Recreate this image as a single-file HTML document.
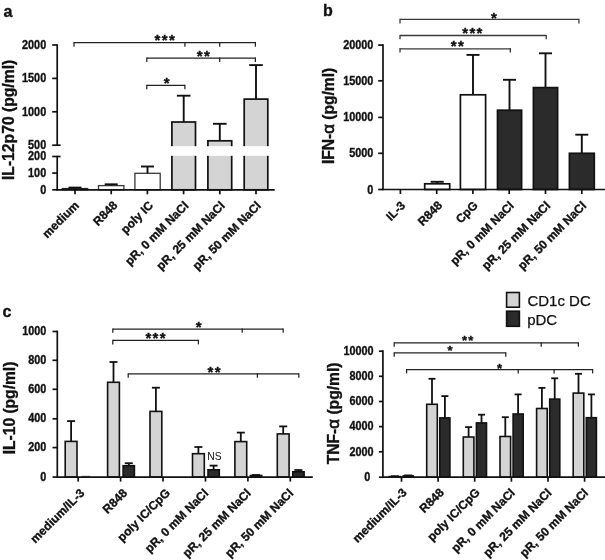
<!DOCTYPE html>
<html lang="en"><head><meta charset="utf-8"><title>Figure</title>
<style>
html,body{margin:0;padding:0;background:#fff;}
body{width:605px;height:560px;overflow:hidden;font-family:"Liberation Sans",sans-serif;}
svg{display:block;font-family:"Liberation Sans",sans-serif;}
</style></head><body>
<svg width="605" height="560" viewBox="0 0 605 560">
<rect x="0" y="0" width="605" height="560" fill="#fff"/>
<text transform="translate(3.5 16.5)" font-size="16" font-weight="bold" stroke="#111" stroke-width="0.35" text-anchor="start" fill="#111">a</text>
<line x1="57.2" y1="44.2" x2="57.2" y2="145.9" stroke="#111" stroke-width="1.7"/>
<line x1="52.2" y1="45.0" x2="57.2" y2="45.0" stroke="#111" stroke-width="1.7"/>
<text transform="translate(46.2 48.9) scale(0.905 1)" font-size="12" font-weight="bold" stroke="#111" stroke-width="0.35" text-anchor="end" fill="#111">2000</text>
<line x1="52.2" y1="78.4" x2="57.2" y2="78.4" stroke="#111" stroke-width="1.7"/>
<text transform="translate(46.2 82.3) scale(0.905 1)" font-size="12" font-weight="bold" stroke="#111" stroke-width="0.35" text-anchor="end" fill="#111">1500</text>
<line x1="52.2" y1="111.8" x2="57.2" y2="111.8" stroke="#111" stroke-width="1.7"/>
<text transform="translate(46.2 115.7) scale(0.905 1)" font-size="12" font-weight="bold" stroke="#111" stroke-width="0.35" text-anchor="end" fill="#111">1000</text>
<line x1="52.2" y1="145.2" x2="57.2" y2="145.2" stroke="#111" stroke-width="1.7"/>
<text transform="translate(46.2 149.1) scale(0.905 1)" font-size="12" font-weight="bold" stroke="#111" stroke-width="0.35" text-anchor="end" fill="#111">500</text>
<line x1="57.2" y1="145.2" x2="60.6" y2="145.2" stroke="#111" stroke-width="1.7"/>
<line x1="57.2" y1="156.5" x2="60.6" y2="156.5" stroke="#111" stroke-width="1.7"/>
<line x1="57.2" y1="155.8" x2="57.2" y2="190.6" stroke="#111" stroke-width="1.7"/>
<line x1="52.2" y1="156.5" x2="57.2" y2="156.5" stroke="#111" stroke-width="1.7"/>
<text transform="translate(46.2 160.4) scale(0.905 1)" font-size="12" font-weight="bold" stroke="#111" stroke-width="0.35" text-anchor="end" fill="#111">200</text>
<line x1="52.2" y1="173.1" x2="57.2" y2="173.1" stroke="#111" stroke-width="1.7"/>
<text transform="translate(46.2 177.0) scale(0.905 1)" font-size="12" font-weight="bold" stroke="#111" stroke-width="0.35" text-anchor="end" fill="#111">100</text>
<line x1="52.2" y1="189.8" x2="57.2" y2="189.8" stroke="#111" stroke-width="1.7"/>
<text transform="translate(46.2 193.7) scale(0.905 1)" font-size="12" font-weight="bold" stroke="#111" stroke-width="0.35" text-anchor="end" fill="#111">0</text>
<text transform="translate(13.8 119.9) rotate(-90)" font-size="15.7" font-weight="bold" stroke="#111" stroke-width="0.35" text-anchor="middle" fill="#111">IL-12p70 (pg/ml)</text>
<rect x="62.3" y="188.5" width="25.4" height="1.3" fill="#fff" stroke="#222" stroke-width="1.2"/>
<line x1="75.0" y1="187.6" x2="75.0" y2="188.5" stroke="#111" stroke-width="1.9"/>
<line x1="68.5" y1="187.6" x2="81.5" y2="187.6" stroke="#111" stroke-width="1.9"/>
<rect x="98.5" y="185.6" width="25.4" height="4.2" fill="#fff" stroke="#383838" stroke-width="1.3"/>
<line x1="111.2" y1="184.3" x2="111.2" y2="185.6" stroke="#111" stroke-width="1.9"/>
<line x1="104.7" y1="184.3" x2="117.7" y2="184.3" stroke="#111" stroke-width="1.9"/>
<rect x="134.9" y="173.3" width="25.3" height="16.5" fill="#fff" stroke="#383838" stroke-width="1.3"/>
<line x1="147.5" y1="166.5" x2="147.5" y2="173.3" stroke="#111" stroke-width="1.9"/>
<line x1="141.0" y1="166.5" x2="154.0" y2="166.5" stroke="#111" stroke-width="1.9"/>
<rect x="171.9" y="122.0" width="23.6" height="67.8" fill="#d4d4d4" stroke="#111" stroke-width="1.7"/>
<line x1="183.7" y1="95.7" x2="183.7" y2="122.0" stroke="#111" stroke-width="1.9"/>
<line x1="176.9" y1="95.7" x2="190.5" y2="95.7" stroke="#111" stroke-width="1.9"/>
<rect x="207.9" y="140.8" width="23.8" height="49.0" fill="#d4d4d4" stroke="#111" stroke-width="1.7"/>
<line x1="219.8" y1="123.8" x2="219.8" y2="140.8" stroke="#111" stroke-width="1.9"/>
<line x1="213.0" y1="123.8" x2="226.6" y2="123.8" stroke="#111" stroke-width="1.9"/>
<rect x="244.2" y="99.1" width="23.6" height="90.7" fill="#d4d4d4" stroke="#111" stroke-width="1.7"/>
<line x1="256.0" y1="65.1" x2="256.0" y2="99.1" stroke="#111" stroke-width="1.9"/>
<line x1="249.2" y1="65.1" x2="262.8" y2="65.1" stroke="#111" stroke-width="1.9"/>
<rect x="165" y="146.2" width="110" height="9.6" fill="#fff"/>
<line x1="56.5" y1="189.8" x2="274.7" y2="189.8" stroke="#111" stroke-width="1.7"/>
<line x1="75.0" y1="189.8" x2="75.0" y2="194.3" stroke="#111" stroke-width="1.7"/>
<line x1="111.2" y1="189.8" x2="111.2" y2="194.3" stroke="#111" stroke-width="1.7"/>
<line x1="147.4" y1="189.8" x2="147.4" y2="194.3" stroke="#111" stroke-width="1.7"/>
<line x1="183.6" y1="189.8" x2="183.6" y2="194.3" stroke="#111" stroke-width="1.7"/>
<line x1="219.8" y1="189.8" x2="219.8" y2="194.3" stroke="#111" stroke-width="1.7"/>
<line x1="256.0" y1="189.8" x2="256.0" y2="194.3" stroke="#111" stroke-width="1.7"/>
<text transform="translate(79.8 206.1) rotate(-45)" font-size="12" font-weight="bold" stroke="#111" stroke-width="0.35" text-anchor="end" fill="#111">medium</text>
<text transform="translate(118.2 206.1) rotate(-45)" font-size="12" font-weight="bold" stroke="#111" stroke-width="0.35" text-anchor="end" fill="#111">R848</text>
<text transform="translate(154.0 206.1) rotate(-45)" font-size="12" font-weight="bold" stroke="#111" stroke-width="0.35" text-anchor="end" fill="#111">poly IC</text>
<text transform="translate(189.3 206.5) rotate(-45)" font-size="12" font-weight="bold" stroke="#111" stroke-width="0.35" text-anchor="end" fill="#111">pR, 0 mM NaCl</text>
<text transform="translate(225.5 206.5) rotate(-45)" font-size="12" font-weight="bold" stroke="#111" stroke-width="0.35" text-anchor="end" fill="#111">pR, 25 mM NaCl</text>
<text transform="translate(261.7 206.5) rotate(-45)" font-size="12" font-weight="bold" stroke="#111" stroke-width="0.35" text-anchor="end" fill="#111">pR, 50 mM NaCl</text>
<line x1="74.0" y1="42.5" x2="255.4" y2="42.5" stroke="#222" stroke-width="1.25"/>
<line x1="74.0" y1="41.9" x2="74.0" y2="46.7" stroke="#222" stroke-width="1.25"/>
<line x1="184.9" y1="41.9" x2="184.9" y2="46.7" stroke="#222" stroke-width="1.25"/>
<line x1="219.7" y1="41.9" x2="219.7" y2="46.7" stroke="#222" stroke-width="1.25"/>
<line x1="255.4" y1="41.9" x2="255.4" y2="46.7" stroke="#222" stroke-width="1.25"/>
<line x1="146.8" y1="58.0" x2="255.4" y2="58.0" stroke="#222" stroke-width="1.25"/>
<line x1="146.8" y1="57.4" x2="146.8" y2="62.0" stroke="#222" stroke-width="1.25"/>
<line x1="219.7" y1="57.4" x2="219.7" y2="62.0" stroke="#222" stroke-width="1.25"/>
<line x1="255.4" y1="57.4" x2="255.4" y2="62.0" stroke="#222" stroke-width="1.25"/>
<line x1="146.8" y1="85.4" x2="184.9" y2="85.4" stroke="#222" stroke-width="1.25"/>
<line x1="146.8" y1="84.8" x2="146.8" y2="89.2" stroke="#222" stroke-width="1.25"/>
<line x1="184.9" y1="84.8" x2="184.9" y2="89.2" stroke="#222" stroke-width="1.25"/>
<text transform="translate(165.3 44.8)" font-size="15" font-weight="bold" stroke="#111" stroke-width="0.35" text-anchor="middle" fill="#111" letter-spacing="1.37">***</text>
<text transform="translate(204.0 61.3)" font-size="15" font-weight="bold" stroke="#111" stroke-width="0.35" text-anchor="middle" fill="#111" letter-spacing="1.37">**</text>
<text transform="translate(167.4 87.5)" font-size="15" font-weight="bold" stroke="#111" stroke-width="0.35" text-anchor="middle" fill="#111" letter-spacing="1.37">*</text>
<text transform="translate(323.0 16.0)" font-size="16" font-weight="bold" stroke="#111" stroke-width="0.35" text-anchor="start" fill="#111">b</text>
<line x1="383.0" y1="44.2" x2="383.0" y2="190.3" stroke="#111" stroke-width="1.7"/>
<line x1="378.2" y1="45.1" x2="383.0" y2="45.1" stroke="#111" stroke-width="1.7"/>
<text transform="translate(373.4 49.1) scale(0.905 1)" font-size="12" font-weight="bold" stroke="#111" stroke-width="0.35" text-anchor="end" fill="#111">20000</text>
<line x1="378.2" y1="80.8" x2="383.0" y2="80.8" stroke="#111" stroke-width="1.7"/>
<text transform="translate(373.4 84.8) scale(0.905 1)" font-size="12" font-weight="bold" stroke="#111" stroke-width="0.35" text-anchor="end" fill="#111">15000</text>
<line x1="378.2" y1="117.4" x2="383.0" y2="117.4" stroke="#111" stroke-width="1.7"/>
<text transform="translate(373.4 121.4) scale(0.905 1)" font-size="12" font-weight="bold" stroke="#111" stroke-width="0.35" text-anchor="end" fill="#111">10000</text>
<line x1="378.2" y1="153.3" x2="383.0" y2="153.3" stroke="#111" stroke-width="1.7"/>
<text transform="translate(373.4 157.3) scale(0.905 1)" font-size="12" font-weight="bold" stroke="#111" stroke-width="0.35" text-anchor="end" fill="#111">5000</text>
<line x1="378.2" y1="189.5" x2="383.0" y2="189.5" stroke="#111" stroke-width="1.7"/>
<text transform="translate(373.4 193.5) scale(0.905 1)" font-size="12" font-weight="bold" stroke="#111" stroke-width="0.35" text-anchor="end" fill="#111">0</text>
<text transform="translate(333.6 115.9) rotate(-90)" font-size="15.6" font-weight="bold" stroke="#111" stroke-width="0.35" text-anchor="middle" fill="#111">IFN-<tspan font-weight="normal" stroke-width="0.7" font-size="16.8">α</tspan> (pg/ml)</text>
<rect x="424.7" y="183.8" width="25.0" height="5.7" fill="#fff" stroke="#111" stroke-width="1.7"/>
<line x1="437.2" y1="181.8" x2="437.2" y2="183.8" stroke="#111" stroke-width="1.9"/>
<line x1="430.7" y1="181.8" x2="443.7" y2="181.8" stroke="#111" stroke-width="1.9"/>
<rect x="460.4" y="94.8" width="25.2" height="94.7" fill="#fff" stroke="#111" stroke-width="1.7"/>
<line x1="473.0" y1="54.9" x2="473.0" y2="94.8" stroke="#111" stroke-width="1.9"/>
<line x1="466.5" y1="54.9" x2="479.5" y2="54.9" stroke="#111" stroke-width="1.9"/>
<rect x="497.5" y="110.2" width="24.1" height="79.3" fill="#2b2b2b" stroke="#111" stroke-width="1.7"/>
<line x1="509.5" y1="79.8" x2="509.5" y2="109.9" stroke="#111" stroke-width="1.9"/>
<line x1="503.0" y1="79.8" x2="516.0" y2="79.8" stroke="#111" stroke-width="1.9"/>
<rect x="533.4" y="87.6" width="24.2" height="101.9" fill="#2b2b2b" stroke="#111" stroke-width="1.7"/>
<line x1="545.5" y1="53.3" x2="545.5" y2="87.3" stroke="#111" stroke-width="1.9"/>
<line x1="539.0" y1="53.3" x2="552.0" y2="53.3" stroke="#111" stroke-width="1.9"/>
<rect x="569.4" y="153.3" width="24.9" height="36.2" fill="#2b2b2b" stroke="#111" stroke-width="1.7"/>
<line x1="581.8" y1="134.7" x2="581.8" y2="153.0" stroke="#111" stroke-width="1.9"/>
<line x1="575.3" y1="134.7" x2="588.3" y2="134.7" stroke="#111" stroke-width="1.9"/>
<line x1="382.2" y1="189.5" x2="605.0" y2="189.5" stroke="#111" stroke-width="1.7"/>
<line x1="400.4" y1="189.5" x2="400.4" y2="194.0" stroke="#111" stroke-width="1.7"/>
<line x1="436.7" y1="189.5" x2="436.7" y2="194.0" stroke="#111" stroke-width="1.7"/>
<line x1="472.9" y1="189.5" x2="472.9" y2="194.0" stroke="#111" stroke-width="1.7"/>
<line x1="509.2" y1="189.5" x2="509.2" y2="194.0" stroke="#111" stroke-width="1.7"/>
<line x1="545.5" y1="189.5" x2="545.5" y2="194.0" stroke="#111" stroke-width="1.7"/>
<line x1="581.8" y1="189.5" x2="581.8" y2="194.0" stroke="#111" stroke-width="1.7"/>
<text transform="translate(406.1 206.3) rotate(-45)" font-size="12" font-weight="bold" stroke="#111" stroke-width="0.35" text-anchor="end" fill="#111">IL-3</text>
<text transform="translate(443.0 206.1) rotate(-45)" font-size="12" font-weight="bold" stroke="#111" stroke-width="0.35" text-anchor="end" fill="#111">R848</text>
<text transform="translate(478.6 206.1) rotate(-45)" font-size="12" font-weight="bold" stroke="#111" stroke-width="0.35" text-anchor="end" fill="#111">CpG</text>
<text transform="translate(514.7 206.4) rotate(-45)" font-size="12" font-weight="bold" stroke="#111" stroke-width="0.35" text-anchor="end" fill="#111">pR, 0 mM NaCl</text>
<text transform="translate(551.0 206.4) rotate(-45)" font-size="12" font-weight="bold" stroke="#111" stroke-width="0.35" text-anchor="end" fill="#111">pR, 25 mM NaCl</text>
<text transform="translate(587.0 206.4) rotate(-45)" font-size="12" font-weight="bold" stroke="#111" stroke-width="0.35" text-anchor="end" fill="#111">pR, 50 mM NaCl</text>
<line x1="400.0" y1="19.3" x2="578.9" y2="19.3" stroke="#383838" stroke-width="1.3"/>
<line x1="400.0" y1="18.7" x2="400.0" y2="23.6" stroke="#383838" stroke-width="1.3"/>
<line x1="578.9" y1="18.7" x2="578.9" y2="23.6" stroke="#383838" stroke-width="1.3"/>
<line x1="400.0" y1="35.5" x2="546.2" y2="35.5" stroke="#383838" stroke-width="1.3"/>
<line x1="400.0" y1="34.9" x2="400.0" y2="39.3" stroke="#383838" stroke-width="1.3"/>
<line x1="546.2" y1="34.9" x2="546.2" y2="39.3" stroke="#383838" stroke-width="1.3"/>
<line x1="400.0" y1="48.8" x2="510.3" y2="48.8" stroke="#383838" stroke-width="1.3"/>
<line x1="400.0" y1="48.1" x2="400.0" y2="52.6" stroke="#383838" stroke-width="1.3"/>
<line x1="510.3" y1="48.1" x2="510.3" y2="52.6" stroke="#383838" stroke-width="1.3"/>
<text transform="translate(494.6 23.2)" font-size="15" font-weight="bold" stroke="#111" stroke-width="0.35" text-anchor="middle" fill="#111" letter-spacing="1.37">*</text>
<text transform="translate(473.0 38.1)" font-size="15" font-weight="bold" stroke="#111" stroke-width="0.35" text-anchor="middle" fill="#111" letter-spacing="1.37">***</text>
<text transform="translate(458.0 51.1)" font-size="15" font-weight="bold" stroke="#111" stroke-width="0.35" text-anchor="middle" fill="#111" letter-spacing="1.37">**</text>
<text transform="translate(2.6 317.4)" font-size="16" font-weight="bold" stroke="#111" stroke-width="0.35" text-anchor="start" fill="#111">c</text>
<line x1="57.3" y1="330.6" x2="57.3" y2="478.0" stroke="#111" stroke-width="1.7"/>
<line x1="52.5" y1="331.5" x2="57.3" y2="331.5" stroke="#111" stroke-width="1.7"/>
<text transform="translate(46.4 335.1) scale(0.905 1)" font-size="12" font-weight="bold" stroke="#111" stroke-width="0.35" text-anchor="end" fill="#111">1000</text>
<line x1="52.5" y1="360.3" x2="57.3" y2="360.3" stroke="#111" stroke-width="1.7"/>
<text transform="translate(46.4 363.9) scale(0.905 1)" font-size="12" font-weight="bold" stroke="#111" stroke-width="0.35" text-anchor="end" fill="#111">800</text>
<line x1="52.5" y1="389.3" x2="57.3" y2="389.3" stroke="#111" stroke-width="1.7"/>
<text transform="translate(46.4 392.9) scale(0.905 1)" font-size="12" font-weight="bold" stroke="#111" stroke-width="0.35" text-anchor="end" fill="#111">600</text>
<line x1="52.5" y1="418.8" x2="57.3" y2="418.8" stroke="#111" stroke-width="1.7"/>
<text transform="translate(46.4 422.4) scale(0.905 1)" font-size="12" font-weight="bold" stroke="#111" stroke-width="0.35" text-anchor="end" fill="#111">400</text>
<line x1="52.5" y1="447.6" x2="57.3" y2="447.6" stroke="#111" stroke-width="1.7"/>
<text transform="translate(46.4 451.2) scale(0.905 1)" font-size="12" font-weight="bold" stroke="#111" stroke-width="0.35" text-anchor="end" fill="#111">200</text>
<line x1="52.5" y1="477.1" x2="57.3" y2="477.1" stroke="#111" stroke-width="1.7"/>
<text transform="translate(46.4 480.7) scale(0.905 1)" font-size="12" font-weight="bold" stroke="#111" stroke-width="0.35" text-anchor="end" fill="#111">0</text>
<text transform="translate(14.7 408.0) rotate(-90)" font-size="15.6" font-weight="bold" stroke="#111" stroke-width="0.35" text-anchor="middle" fill="#111">IL-10 (pg/ml)</text>
<rect x="65.2" y="441.4" width="11.8" height="35.7" fill="#d4d4d4" stroke="#111" stroke-width="1.6"/>
<line x1="71.1" y1="421.1" x2="71.1" y2="441.4" stroke="#111" stroke-width="1.8"/>
<line x1="67.1" y1="421.1" x2="75.1" y2="421.1" stroke="#111" stroke-width="1.8"/>
<line x1="81.5" y1="476.3" x2="90.0" y2="476.3" stroke="#333" stroke-width="0.8"/>
<rect x="107.6" y="382.3" width="11.8" height="94.8" fill="#d4d4d4" stroke="#111" stroke-width="1.6"/>
<line x1="113.5" y1="362.0" x2="113.5" y2="382.3" stroke="#111" stroke-width="1.8"/>
<line x1="109.5" y1="362.0" x2="117.5" y2="362.0" stroke="#111" stroke-width="1.8"/>
<rect x="123.1" y="465.7" width="11.3" height="11.4" fill="#2b2b2b" stroke="#111" stroke-width="1.6"/>
<line x1="128.8" y1="463.2" x2="128.8" y2="465.7" stroke="#111" stroke-width="1.8"/>
<line x1="124.8" y1="463.2" x2="132.8" y2="463.2" stroke="#111" stroke-width="1.8"/>
<rect x="150.0" y="411.4" width="11.8" height="65.7" fill="#d4d4d4" stroke="#111" stroke-width="1.6"/>
<line x1="155.9" y1="387.7" x2="155.9" y2="411.4" stroke="#111" stroke-width="1.8"/>
<line x1="151.9" y1="387.7" x2="159.9" y2="387.7" stroke="#111" stroke-width="1.8"/>
<rect x="192.5" y="453.7" width="11.8" height="23.4" fill="#d4d4d4" stroke="#111" stroke-width="1.6"/>
<line x1="198.4" y1="447.0" x2="198.4" y2="453.7" stroke="#111" stroke-width="1.8"/>
<line x1="194.4" y1="447.0" x2="202.4" y2="447.0" stroke="#111" stroke-width="1.8"/>
<rect x="208.0" y="469.8" width="11.3" height="7.3" fill="#2b2b2b" stroke="#111" stroke-width="1.6"/>
<line x1="213.6" y1="465.6" x2="213.6" y2="469.8" stroke="#111" stroke-width="1.8"/>
<line x1="209.6" y1="465.6" x2="217.6" y2="465.6" stroke="#111" stroke-width="1.8"/>
<rect x="234.9" y="441.6" width="11.8" height="35.5" fill="#d4d4d4" stroke="#111" stroke-width="1.6"/>
<line x1="240.8" y1="432.6" x2="240.8" y2="441.6" stroke="#111" stroke-width="1.8"/>
<line x1="236.8" y1="432.6" x2="244.8" y2="432.6" stroke="#111" stroke-width="1.8"/>
<rect x="250.4" y="475.5" width="11.3" height="1.6" fill="#2b2b2b" stroke="#111" stroke-width="1.6"/>
<line x1="256.0" y1="475.0" x2="256.0" y2="475.5" stroke="#111" stroke-width="1.8"/>
<line x1="252.0" y1="475.0" x2="260.0" y2="475.0" stroke="#111" stroke-width="1.8"/>
<rect x="277.3" y="433.9" width="11.8" height="43.2" fill="#d4d4d4" stroke="#111" stroke-width="1.6"/>
<line x1="283.2" y1="426.4" x2="283.2" y2="433.9" stroke="#111" stroke-width="1.8"/>
<line x1="279.2" y1="426.4" x2="287.2" y2="426.4" stroke="#111" stroke-width="1.8"/>
<rect x="292.8" y="471.8" width="11.3" height="5.3" fill="#2b2b2b" stroke="#111" stroke-width="1.6"/>
<line x1="298.4" y1="470.0" x2="298.4" y2="471.8" stroke="#111" stroke-width="1.8"/>
<line x1="294.4" y1="470.0" x2="302.4" y2="470.0" stroke="#111" stroke-width="1.8"/>
<line x1="56.5" y1="477.1" x2="312.8" y2="477.1" stroke="#111" stroke-width="1.7"/>
<line x1="78.2" y1="477.1" x2="78.2" y2="481.6" stroke="#111" stroke-width="1.7"/>
<line x1="120.6" y1="477.1" x2="120.6" y2="481.6" stroke="#111" stroke-width="1.7"/>
<line x1="163.0" y1="477.1" x2="163.0" y2="481.6" stroke="#111" stroke-width="1.7"/>
<line x1="205.5" y1="477.1" x2="205.5" y2="481.6" stroke="#111" stroke-width="1.7"/>
<line x1="247.9" y1="477.1" x2="247.9" y2="481.6" stroke="#111" stroke-width="1.7"/>
<line x1="290.3" y1="477.1" x2="290.3" y2="481.6" stroke="#111" stroke-width="1.7"/>
<text transform="translate(85.2 493.7) rotate(-45)" font-size="12" font-weight="bold" stroke="#111" stroke-width="0.35" text-anchor="end" fill="#111">medium/IL-3</text>
<text transform="translate(127.9 493.9) rotate(-45)" font-size="12" font-weight="bold" stroke="#111" stroke-width="0.35" text-anchor="end" fill="#111">R848</text>
<text transform="translate(170.8 493.7) rotate(-45)" font-size="12" font-weight="bold" stroke="#111" stroke-width="0.35" text-anchor="end" fill="#111">poly IC/CpG</text>
<text transform="translate(209.1 493.9) rotate(-45)" font-size="12" font-weight="bold" stroke="#111" stroke-width="0.35" text-anchor="end" fill="#111">pR, 0 mM NaCl</text>
<text transform="translate(251.7 493.9) rotate(-45)" font-size="12" font-weight="bold" stroke="#111" stroke-width="0.35" text-anchor="end" fill="#111">pR, 25 mM NaCl</text>
<text transform="translate(294.1 493.9) rotate(-45)" font-size="12" font-weight="bold" stroke="#111" stroke-width="0.35" text-anchor="end" fill="#111">pR, 50 mM NaCl</text>
<line x1="112.8" y1="329.0" x2="283.2" y2="329.0" stroke="#222" stroke-width="1.25"/>
<line x1="112.8" y1="328.4" x2="112.8" y2="332.8" stroke="#222" stroke-width="1.25"/>
<line x1="242.2" y1="328.4" x2="242.2" y2="332.8" stroke="#222" stroke-width="1.25"/>
<line x1="283.2" y1="328.4" x2="283.2" y2="332.8" stroke="#222" stroke-width="1.25"/>
<line x1="112.8" y1="340.4" x2="198.4" y2="340.4" stroke="#222" stroke-width="1.25"/>
<line x1="112.8" y1="339.8" x2="112.8" y2="344.4" stroke="#222" stroke-width="1.25"/>
<line x1="198.4" y1="339.8" x2="198.4" y2="344.4" stroke="#222" stroke-width="1.25"/>
<line x1="128.2" y1="373.9" x2="298.8" y2="373.9" stroke="#222" stroke-width="1.25"/>
<line x1="128.2" y1="373.3" x2="128.2" y2="377.7" stroke="#222" stroke-width="1.25"/>
<line x1="257.4" y1="373.3" x2="257.4" y2="377.7" stroke="#222" stroke-width="1.25"/>
<line x1="298.8" y1="373.3" x2="298.8" y2="377.7" stroke="#222" stroke-width="1.25"/>
<text transform="translate(199.3 331.8)" font-size="15" font-weight="bold" stroke="#111" stroke-width="0.35" text-anchor="middle" fill="#111" letter-spacing="1.37">*</text>
<text transform="translate(156.2 343.0)" font-size="15" font-weight="bold" stroke="#111" stroke-width="0.35" text-anchor="middle" fill="#111" letter-spacing="1.37">***</text>
<text transform="translate(214.7 377.1)" font-size="15" font-weight="bold" stroke="#111" stroke-width="0.35" text-anchor="middle" fill="#111" letter-spacing="1.37">**</text>
<text transform="translate(207.3 460.0)" font-size="10.3" text-anchor="start" fill="#111">NS</text>
<line x1="382.9" y1="350.3" x2="382.9" y2="478.1" stroke="#111" stroke-width="1.7"/>
<line x1="378.9" y1="351.2" x2="382.9" y2="351.2" stroke="#111" stroke-width="1.7"/>
<text transform="translate(373.6 354.9) scale(0.905 1)" font-size="12" font-weight="bold" stroke="#111" stroke-width="0.35" text-anchor="end" fill="#111">10000</text>
<line x1="378.9" y1="376.3" x2="382.9" y2="376.3" stroke="#111" stroke-width="1.7"/>
<text transform="translate(373.6 380.0) scale(0.905 1)" font-size="12" font-weight="bold" stroke="#111" stroke-width="0.35" text-anchor="end" fill="#111">8000</text>
<line x1="378.9" y1="401.5" x2="382.9" y2="401.5" stroke="#111" stroke-width="1.7"/>
<text transform="translate(373.6 405.2) scale(0.905 1)" font-size="12" font-weight="bold" stroke="#111" stroke-width="0.35" text-anchor="end" fill="#111">6000</text>
<line x1="378.9" y1="426.6" x2="382.9" y2="426.6" stroke="#111" stroke-width="1.7"/>
<text transform="translate(373.6 430.3) scale(0.905 1)" font-size="12" font-weight="bold" stroke="#111" stroke-width="0.35" text-anchor="end" fill="#111">4000</text>
<line x1="378.9" y1="451.8" x2="382.9" y2="451.8" stroke="#111" stroke-width="1.7"/>
<text transform="translate(373.6 455.5) scale(0.905 1)" font-size="12" font-weight="bold" stroke="#111" stroke-width="0.35" text-anchor="end" fill="#111">2000</text>
<line x1="378.9" y1="477.2" x2="382.9" y2="477.2" stroke="#111" stroke-width="1.7"/>
<text transform="translate(373.6 480.9) scale(0.905 1)" font-size="12" font-weight="bold" stroke="#111" stroke-width="0.35" text-anchor="end" fill="#111"></text>
<text transform="translate(370.4 481.1) scale(0.905 1)" font-size="12" font-weight="bold" stroke="#111" stroke-width="0.35" text-anchor="end" fill="#111">0</text>
<text transform="translate(338.7 413.4) rotate(-90)" font-size="15.65" font-weight="bold" stroke="#111" stroke-width="0.35" text-anchor="middle" fill="#111">TNF-<tspan font-weight="normal" stroke-width="0.7" font-size="16.8">α</tspan> (pg/ml)</text>
<rect x="389.1" y="476.6" width="11.6" height="0.6" fill="#d4d4d4" stroke="#111" stroke-width="1.6"/>
<line x1="394.9" y1="476.2" x2="394.9" y2="476.6" stroke="#111" stroke-width="1.8"/>
<line x1="390.9" y1="476.2" x2="398.9" y2="476.2" stroke="#111" stroke-width="1.8"/>
<rect x="403.2" y="475.9" width="10.1" height="1.3" fill="#2b2b2b" stroke="#111" stroke-width="1.6"/>
<line x1="408.2" y1="475.4" x2="408.2" y2="475.9" stroke="#111" stroke-width="1.8"/>
<line x1="404.2" y1="475.4" x2="412.2" y2="475.4" stroke="#111" stroke-width="1.8"/>
<rect x="426.7" y="404.3" width="10.6" height="72.9" fill="#d4d4d4" stroke="#111" stroke-width="1.6"/>
<line x1="432.0" y1="378.8" x2="432.0" y2="404.3" stroke="#111" stroke-width="1.8"/>
<line x1="428.5" y1="378.8" x2="435.5" y2="378.8" stroke="#111" stroke-width="1.8"/>
<rect x="439.8" y="417.9" width="10.1" height="59.3" fill="#2b2b2b" stroke="#111" stroke-width="1.6"/>
<line x1="444.9" y1="396.1" x2="444.9" y2="417.9" stroke="#111" stroke-width="1.8"/>
<line x1="441.4" y1="396.1" x2="448.4" y2="396.1" stroke="#111" stroke-width="1.8"/>
<rect x="463.3" y="437.0" width="10.6" height="40.2" fill="#d4d4d4" stroke="#111" stroke-width="1.6"/>
<line x1="468.6" y1="427.1" x2="468.6" y2="437.0" stroke="#111" stroke-width="1.8"/>
<line x1="465.1" y1="427.1" x2="472.1" y2="427.1" stroke="#111" stroke-width="1.8"/>
<rect x="476.4" y="422.9" width="10.1" height="54.3" fill="#2b2b2b" stroke="#111" stroke-width="1.6"/>
<line x1="481.5" y1="414.7" x2="481.5" y2="422.9" stroke="#111" stroke-width="1.8"/>
<line x1="478.0" y1="414.7" x2="485.0" y2="414.7" stroke="#111" stroke-width="1.8"/>
<rect x="500.0" y="436.5" width="10.6" height="40.7" fill="#d4d4d4" stroke="#111" stroke-width="1.6"/>
<line x1="505.3" y1="417.2" x2="505.3" y2="436.5" stroke="#111" stroke-width="1.8"/>
<line x1="501.8" y1="417.2" x2="508.8" y2="417.2" stroke="#111" stroke-width="1.8"/>
<rect x="513.1" y="414.0" width="10.1" height="63.2" fill="#2b2b2b" stroke="#111" stroke-width="1.6"/>
<line x1="518.1" y1="394.4" x2="518.1" y2="414.0" stroke="#111" stroke-width="1.8"/>
<line x1="514.6" y1="394.4" x2="521.6" y2="394.4" stroke="#111" stroke-width="1.8"/>
<rect x="536.6" y="408.5" width="10.6" height="68.7" fill="#d4d4d4" stroke="#111" stroke-width="1.6"/>
<line x1="541.9" y1="387.9" x2="541.9" y2="408.5" stroke="#111" stroke-width="1.8"/>
<line x1="538.4" y1="387.9" x2="545.4" y2="387.9" stroke="#111" stroke-width="1.8"/>
<rect x="549.7" y="399.1" width="10.1" height="78.1" fill="#2b2b2b" stroke="#111" stroke-width="1.6"/>
<line x1="554.7" y1="378.3" x2="554.7" y2="399.1" stroke="#111" stroke-width="1.8"/>
<line x1="551.2" y1="378.3" x2="558.2" y2="378.3" stroke="#111" stroke-width="1.8"/>
<rect x="573.2" y="393.1" width="10.6" height="84.1" fill="#d4d4d4" stroke="#111" stroke-width="1.6"/>
<line x1="578.5" y1="373.8" x2="578.5" y2="393.1" stroke="#111" stroke-width="1.8"/>
<line x1="575.0" y1="373.8" x2="582.0" y2="373.8" stroke="#111" stroke-width="1.8"/>
<rect x="586.3" y="417.7" width="10.1" height="59.5" fill="#2b2b2b" stroke="#111" stroke-width="1.6"/>
<line x1="591.4" y1="394.4" x2="591.4" y2="417.7" stroke="#111" stroke-width="1.8"/>
<line x1="587.9" y1="394.4" x2="594.9" y2="394.4" stroke="#111" stroke-width="1.8"/>
<line x1="382.1" y1="477.2" x2="605.0" y2="477.2" stroke="#111" stroke-width="1.7"/>
<line x1="401.5" y1="477.2" x2="401.5" y2="481.7" stroke="#111" stroke-width="1.7"/>
<line x1="438.1" y1="477.2" x2="438.1" y2="481.7" stroke="#111" stroke-width="1.7"/>
<line x1="474.7" y1="477.2" x2="474.7" y2="481.7" stroke="#111" stroke-width="1.7"/>
<line x1="511.4" y1="477.2" x2="511.4" y2="481.7" stroke="#111" stroke-width="1.7"/>
<line x1="548.0" y1="477.2" x2="548.0" y2="481.7" stroke="#111" stroke-width="1.7"/>
<line x1="584.6" y1="477.2" x2="584.6" y2="481.7" stroke="#111" stroke-width="1.7"/>
<text transform="translate(407.5 493.2) rotate(-45)" font-size="12" font-weight="bold" stroke="#111" stroke-width="0.35" text-anchor="end" fill="#111">medium/IL-3</text>
<text transform="translate(444.6 493.2) rotate(-45)" font-size="12" font-weight="bold" stroke="#111" stroke-width="0.35" text-anchor="end" fill="#111">R848</text>
<text transform="translate(480.7 493.2) rotate(-45)" font-size="12" font-weight="bold" stroke="#111" stroke-width="0.35" text-anchor="end" fill="#111">poly IC/CpG</text>
<text transform="translate(515.7 493.6) rotate(-45)" font-size="12" font-weight="bold" stroke="#111" stroke-width="0.35" text-anchor="end" fill="#111">pR, 0 mM NaCl</text>
<text transform="translate(552.3 493.6) rotate(-45)" font-size="12" font-weight="bold" stroke="#111" stroke-width="0.35" text-anchor="end" fill="#111">pR, 25 mM NaCl</text>
<text transform="translate(588.9 493.6) rotate(-45)" font-size="12" font-weight="bold" stroke="#111" stroke-width="0.35" text-anchor="end" fill="#111">pR, 50 mM NaCl</text>
<line x1="394.2" y1="342.9" x2="578.4" y2="342.9" stroke="#222" stroke-width="1.25"/>
<line x1="394.2" y1="342.3" x2="394.2" y2="346.7" stroke="#222" stroke-width="1.25"/>
<line x1="541.2" y1="342.3" x2="541.2" y2="346.7" stroke="#222" stroke-width="1.25"/>
<line x1="578.4" y1="342.3" x2="578.4" y2="346.7" stroke="#222" stroke-width="1.25"/>
<line x1="394.2" y1="352.9" x2="505.8" y2="352.9" stroke="#222" stroke-width="1.25"/>
<line x1="394.2" y1="352.3" x2="394.2" y2="356.7" stroke="#222" stroke-width="1.25"/>
<line x1="505.8" y1="352.3" x2="505.8" y2="356.7" stroke="#222" stroke-width="1.25"/>
<line x1="406.6" y1="369.6" x2="592.6" y2="369.6" stroke="#222" stroke-width="1.25"/>
<line x1="406.6" y1="369.0" x2="406.6" y2="373.4" stroke="#222" stroke-width="1.25"/>
<line x1="518.2" y1="369.0" x2="518.2" y2="373.4" stroke="#222" stroke-width="1.25"/>
<line x1="554.1" y1="369.0" x2="554.1" y2="373.4" stroke="#222" stroke-width="1.25"/>
<line x1="592.6" y1="369.0" x2="592.6" y2="373.4" stroke="#222" stroke-width="1.25"/>
<text transform="translate(468.2 345.0)" font-size="13" font-weight="bold" stroke="#111" stroke-width="0.35" text-anchor="middle" fill="#111" letter-spacing="1.14">**</text>
<text transform="translate(450.5 355.2)" font-size="13" font-weight="bold" stroke="#111" stroke-width="0.35" text-anchor="middle" fill="#111" letter-spacing="1.14">*</text>
<text transform="translate(500.1 372.5)" font-size="13" font-weight="bold" stroke="#111" stroke-width="0.35" text-anchor="middle" fill="#111" letter-spacing="1.14">*</text>
<rect x="506.6" y="292.5" width="12.8" height="14.7" fill="#d4d4d4" stroke="#111" stroke-width="1.6"/>
<rect x="506.6" y="311.2" width="12.8" height="15.1" fill="#2b2b2b" stroke="#111" stroke-width="1.6"/>
<text transform="translate(527.4 306.0)" font-size="15" text-anchor="start" fill="#111" stroke="#111" stroke-width="0.25">CD1c DC</text>
<text transform="translate(527.2 324.6)" font-size="15" text-anchor="start" fill="#111" stroke="#111" stroke-width="0.25">pDC</text>
</svg>
</body></html>
